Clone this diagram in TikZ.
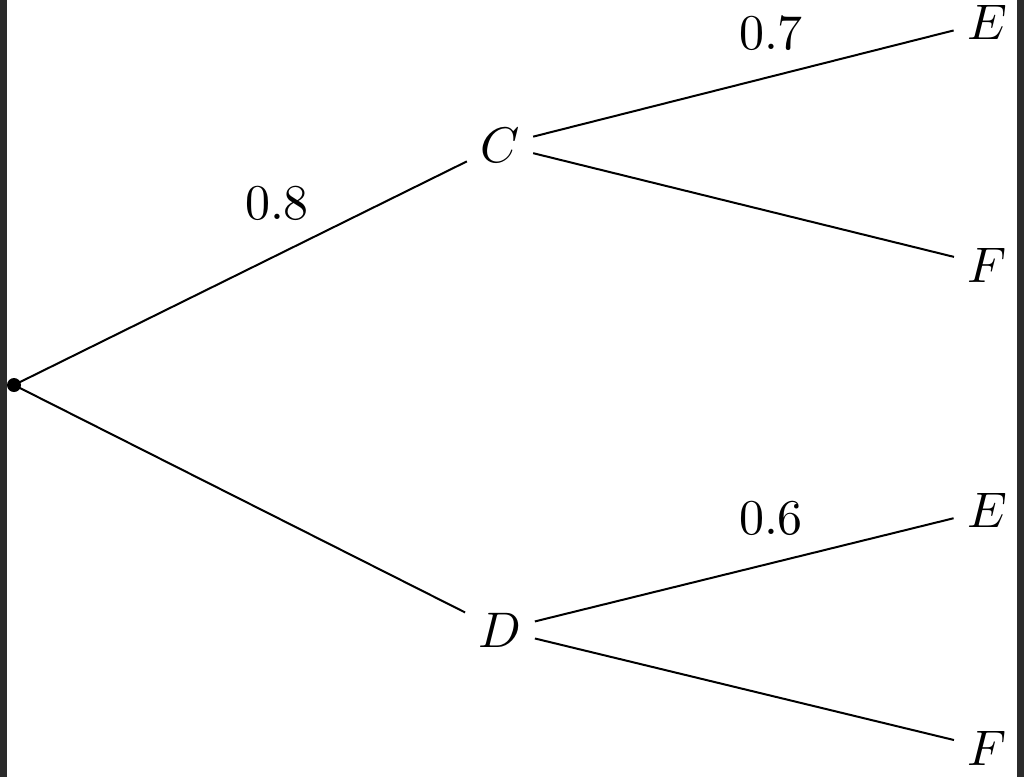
\documentclass[tikz,border=0pt]{standalone}
\begin{document}
\begin{tikzpicture}[x=0.2pt,y=-0.2pt,line width=0.4pt,
  lbl/.style={inner sep=2.5pt}]
\useasboundingbox (0,0) rectangle (1024,777);
\fill[black!83] (0,0) rectangle (7,777);
\fill[black!83] (1017,0) rectangle (1024,777);
\fill (14,385) circle (7) coordinate (r);
\node[lbl] (C) at (500,145) {$C$};
\node[lbl] (D) at (500,630) {$D$};
\node[lbl] (E1) at (987,22) {$E$};
\node[lbl] (F1) at (987,265) {$F$};
\node[lbl] (E2) at (987,510) {$E$};
\node[lbl] (F2) at (987,748) {$F$};
\draw (r) -- (C);
\draw (r) -- (D);
\draw (C) -- (E1);
\draw (C) -- (F1);
\draw (D) -- (E2);
\draw (D) -- (F2);
\node (a) at (277,203) {$0.8$};
\node (b) at (771,33) {$0.7$};
\node (c) at (771,518) {$0.6$};
\end{tikzpicture}
\end{document}
